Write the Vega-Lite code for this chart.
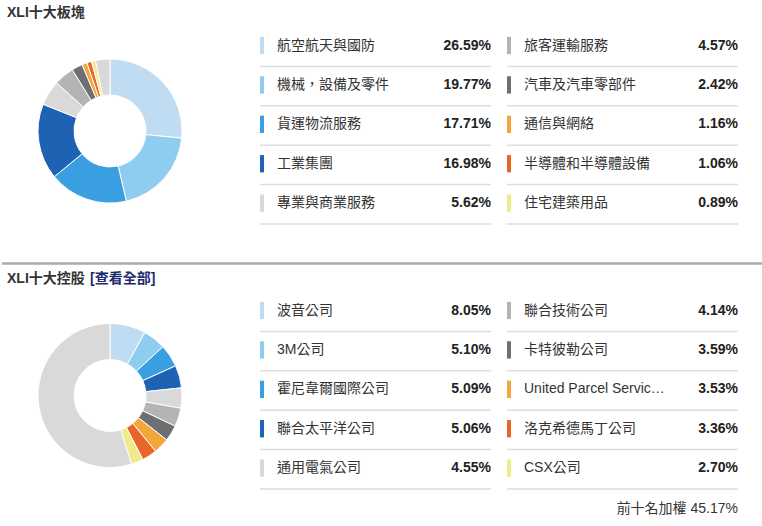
{
  "$schema": "https://vega.github.io/schema/vega-lite/v6.json",
  "padding": 0,
  "spacing": 0,
  "config": {
    "view": {"stroke": null},
    "font": "Liberation Sans, Noto Sans CJK TC, sans-serif",
    "text": {"font": "Liberation Sans, Noto Sans CJK TC, sans-serif"}
  },
  "datasets": {
    "sectors": [
      {"idx": 1, "name": "航空航天與國防", "pct": 0.2659, "col": 0, "row": 0, "kind": "item"},
      {"idx": 2, "name": "機械，設備及零件", "pct": 0.1977, "col": 0, "row": 1, "kind": "item"},
      {"idx": 3, "name": "貨運物流服務", "pct": 0.1771, "col": 0, "row": 2, "kind": "item"},
      {"idx": 4, "name": "工業集團", "pct": 0.1698, "col": 0, "row": 3, "kind": "item"},
      {"idx": 5, "name": "專業與商業服務", "pct": 0.0562, "col": 0, "row": 4, "kind": "item"},
      {"idx": 6, "name": "旅客運輸服務", "pct": 0.0457, "col": 1, "row": 0, "kind": "item"},
      {"idx": 7, "name": "汽車及汽車零部件", "pct": 0.0242, "col": 1, "row": 1, "kind": "item"},
      {"idx": 8, "name": "通信與網絡", "pct": 0.0116, "col": 1, "row": 2, "kind": "item"},
      {"idx": 9, "name": "半導體和半導體設備", "pct": 0.0106, "col": 1, "row": 3, "kind": "item"},
      {"idx": 10, "name": "住宅建築用品", "pct": 0.0089, "col": 1, "row": 4, "kind": "item"},
      {"idx": 11, "name": "其他", "pct": 0.0323, "kind": "other"}
    ],
    "holdings": [
      {"idx": 1, "name": "波音公司", "pct": 0.0805, "col": 0, "row": 0, "kind": "item"},
      {"idx": 2, "name": "3M公司", "pct": 0.0510, "col": 0, "row": 1, "kind": "item"},
      {"idx": 3, "name": "霍尼韋爾國際公司", "pct": 0.0509, "col": 0, "row": 2, "kind": "item"},
      {"idx": 4, "name": "聯合太平洋公司", "pct": 0.0506, "col": 0, "row": 3, "kind": "item"},
      {"idx": 5, "name": "通用電氣公司", "pct": 0.0455, "col": 0, "row": 4, "kind": "item"},
      {"idx": 6, "name": "聯合技術公司", "pct": 0.0414, "col": 1, "row": 0, "kind": "item"},
      {"idx": 7, "name": "卡特彼勒公司", "pct": 0.0359, "col": 1, "row": 1, "kind": "item"},
      {"idx": 8, "name": "United Parcel Servic…", "pct": 0.0353, "col": 1, "row": 2, "kind": "item"},
      {"idx": 9, "name": "洛克希德馬丁公司", "pct": 0.0336, "col": 1, "row": 3, "kind": "item"},
      {"idx": 10, "name": "CSX公司", "pct": 0.0270, "col": 1, "row": 4, "kind": "item"},
      {"idx": 11, "name": "其他", "pct": 0.5483, "kind": "other"}
    ]
  },
  "vconcat": [
    {
      "spacing": 42,
      "bounds": "flush",
      "hconcat": [
        {
          "width": 216,
          "height": 262,
          "layer": [
            {
              "data": {"name": "sectors"},
              "mark": {"type": "arc", "innerRadius": 36, "outerRadius": 72, "stroke": "#ffffff", "strokeWidth": 1},
              "encoding": {
                "theta": {"field": "pct", "type": "quantitative", "stack": true},
                "order": {"field": "idx", "type": "quantitative"},
                "color": {"field": "idx", "type": "ordinal", "legend": null,
                  "scale": {"domain": [1,2,3,4,5,6,7,8,9,10,11], "range": ["#bfdcf3","#8fcdf0","#3a9fe0","#1e63b3","#d9d9d9","#b4b4b4","#6d6f73","#f3a73b","#e9662a","#f0ea8c","#d9d9d9"]}}
              }
            },
            {
              "data": {"values": [{"t": "XLI十大板塊"}]},
              "mark": {"type": "text", "align": "left", "baseline": "middle", "fontSize": 14, "fontWeight": "bold", "color": "#333333", "dx": 5, "dy": 13},
              "encoding": {
                "x": {"datum": 0, "type": "quantitative", "scale": {"domain": [0, 1]}, "axis": null},
                "y": {"datum": 1, "type": "quantitative", "scale": {"domain": [0, 1]}, "axis": null},
                "text": {"field": "t"}
              }
            }
          ]
        },
        {
          "width": 478,
          "height": 262,
          "data": {"name": "sectors"},
          "transform": [{"filter": "datum.kind == 'item'"}],
          "encoding": {
            "y": {"field": "row", "type": "ordinal", "axis": null, "scale": {"paddingInner": 0, "paddingOuter": 0.8249, "align": 0.4154}}
          },
          "layer": [
            {
              "mark": {"type": "rule", "color": "#dddddd", "strokeWidth": 1.5},
              "encoding": {
                "x": {"field": "col", "type": "ordinal", "bandPosition": 0, "axis": null, "scale": {"paddingInner": 0.0648, "paddingOuter": 0}},
                "x2": {"field": "col", "bandPosition": 1},
                "y": {"field": "row", "type": "ordinal", "bandPosition": 1}
              }
            },
            {
              "mark": {"type": "rule", "strokeWidth": 4},
              "encoding": {
                "x": {"field": "col", "type": "ordinal", "bandPosition": 0.0087, "axis": null},
                "y": {"field": "row", "type": "ordinal", "bandPosition": 0.25},
                "y2": {"field": "row", "bandPosition": 0.69},
                "color": {"field": "idx", "type": "ordinal", "legend": null}
              }
            },
            {
              "mark": {"type": "text", "align": "left", "baseline": "middle", "fontSize": 14, "color": "#333333", "dx": 17},
              "encoding": {
                "x": {"field": "col", "type": "ordinal", "bandPosition": 0, "axis": null},
                "y": {"field": "row", "type": "ordinal", "bandPosition": 0.47},
                "text": {"field": "name"}
              }
            },
            {
              "mark": {"type": "text", "align": "right", "baseline": "middle", "fontSize": 14, "fontWeight": "bold", "color": "#222222"},
              "encoding": {
                "x": {"field": "col", "type": "ordinal", "bandPosition": 1, "axis": null},
                "y": {"field": "row", "type": "ordinal", "bandPosition": 0.47},
                "text": {"field": "pct", "type": "quantitative", "format": ".2%"}
              }
            }
          ]
        }
      ]
    },
    {
      "width": 762,
      "height": 3,
      "data": {"values": [{"s": 1}]},
      "mark": {"type": "rule", "color": "#aaaaaa", "strokeWidth": 2.5},
      "encoding": {
        "y": {"datum": 0.5, "type": "quantitative", "scale": {"domain": [0, 1]}, "axis": null}
      }
    },
    {
      "spacing": 42,
      "bounds": "flush",
      "hconcat": [
        {
          "width": 216,
          "height": 261,
          "layer": [
            {
              "data": {"name": "holdings"},
              "mark": {"type": "arc", "innerRadius": 36, "outerRadius": 72, "stroke": "#ffffff", "strokeWidth": 1},
              "encoding": {
                "theta": {"field": "pct", "type": "quantitative", "stack": true},
                "order": {"field": "idx", "type": "quantitative"},
                "color": {"field": "idx", "type": "ordinal", "legend": null,
                  "scale": {"domain": [1,2,3,4,5,6,7,8,9,10,11], "range": ["#bfdcf3","#8fcdf0","#3a9fe0","#1e63b3","#d9d9d9","#b4b4b4","#6d6f73","#f3a73b","#e9662a","#f0ea8c","#d9d9d9"]}}
              }
            },
            {
              "data": {"values": [{"t": "XLI十大控股"}]},
              "mark": {"type": "text", "align": "left", "baseline": "middle", "fontSize": 14, "fontWeight": "bold", "color": "#333333", "dx": 5, "dy": 13.5},
              "encoding": {
                "x": {"datum": 0, "type": "quantitative", "scale": {"domain": [0, 1]}, "axis": null},
                "y": {"datum": 1, "type": "quantitative", "scale": {"domain": [0, 1]}, "axis": null},
                "text": {"field": "t"}
              }
            },
            {
              "data": {"values": [{"t": "[查看全部]"}]},
              "mark": {"type": "text", "align": "left", "baseline": "middle", "fontSize": 14, "fontWeight": "bold", "color": "#1f2a6e", "dx": 88, "dy": 13.5},
              "encoding": {
                "x": {"datum": 0, "type": "quantitative"},
                "y": {"datum": 1, "type": "quantitative"},
                "text": {"field": "t"}
              }
            }
          ]
        },
        {
          "width": 478,
          "height": 261,
          "encoding": {
            "y": {"field": "row", "type": "ordinal", "axis": null, "scale": {"paddingInner": 0, "paddingOuter": 0.8122, "align": 0.4219}}
          },
          "layer": [
            {
              "data": {"name": "holdings"},
              "transform": [{"filter": "datum.kind == 'item'"}],
              "mark": {"type": "rule", "color": "#dddddd", "strokeWidth": 1.5},
              "encoding": {
                "x": {"field": "col", "type": "ordinal", "bandPosition": 0, "axis": null, "scale": {"paddingInner": 0.0648, "paddingOuter": 0}},
                "x2": {"field": "col", "bandPosition": 1},
                "y": {"field": "row", "type": "ordinal", "bandPosition": 1}
              }
            },
            {
              "data": {"name": "holdings"},
              "transform": [{"filter": "datum.kind == 'item'"}],
              "mark": {"type": "rule", "strokeWidth": 4},
              "encoding": {
                "x": {"field": "col", "type": "ordinal", "bandPosition": 0.0087, "axis": null},
                "y": {"field": "row", "type": "ordinal", "bandPosition": 0.25},
                "y2": {"field": "row", "bandPosition": 0.69},
                "color": {"field": "idx", "type": "ordinal", "legend": null}
              }
            },
            {
              "data": {"name": "holdings"},
              "transform": [{"filter": "datum.kind == 'item'"}],
              "mark": {"type": "text", "align": "left", "baseline": "middle", "fontSize": 14, "color": "#333333", "dx": 17},
              "encoding": {
                "x": {"field": "col", "type": "ordinal", "bandPosition": 0, "axis": null},
                "y": {"field": "row", "type": "ordinal", "bandPosition": 0.47},
                "text": {"field": "name"}
              }
            },
            {
              "data": {"name": "holdings"},
              "transform": [{"filter": "datum.kind == 'item'"}],
              "mark": {"type": "text", "align": "right", "baseline": "middle", "fontSize": 14, "fontWeight": "bold", "color": "#222222"},
              "encoding": {
                "x": {"field": "col", "type": "ordinal", "bandPosition": 1, "axis": null},
                "y": {"field": "row", "type": "ordinal", "bandPosition": 0.47},
                "text": {"field": "pct", "type": "quantitative", "format": ".2%"}
              }
            },
            {
              "data": {"values": [{"col": 1, "row": 4, "t": "前十名加權 45.17%"}]},
              "mark": {"type": "text", "align": "right", "baseline": "middle", "fontSize": 14, "color": "#333333"},
              "encoding": {
                "x": {"field": "col", "type": "ordinal", "bandPosition": 1, "axis": null},
                "y": {"field": "row", "type": "ordinal", "bandPosition": 1.5},
                "text": {"field": "t"}
              }
            }
          ]
        }
      ]
    }
  ]
}
